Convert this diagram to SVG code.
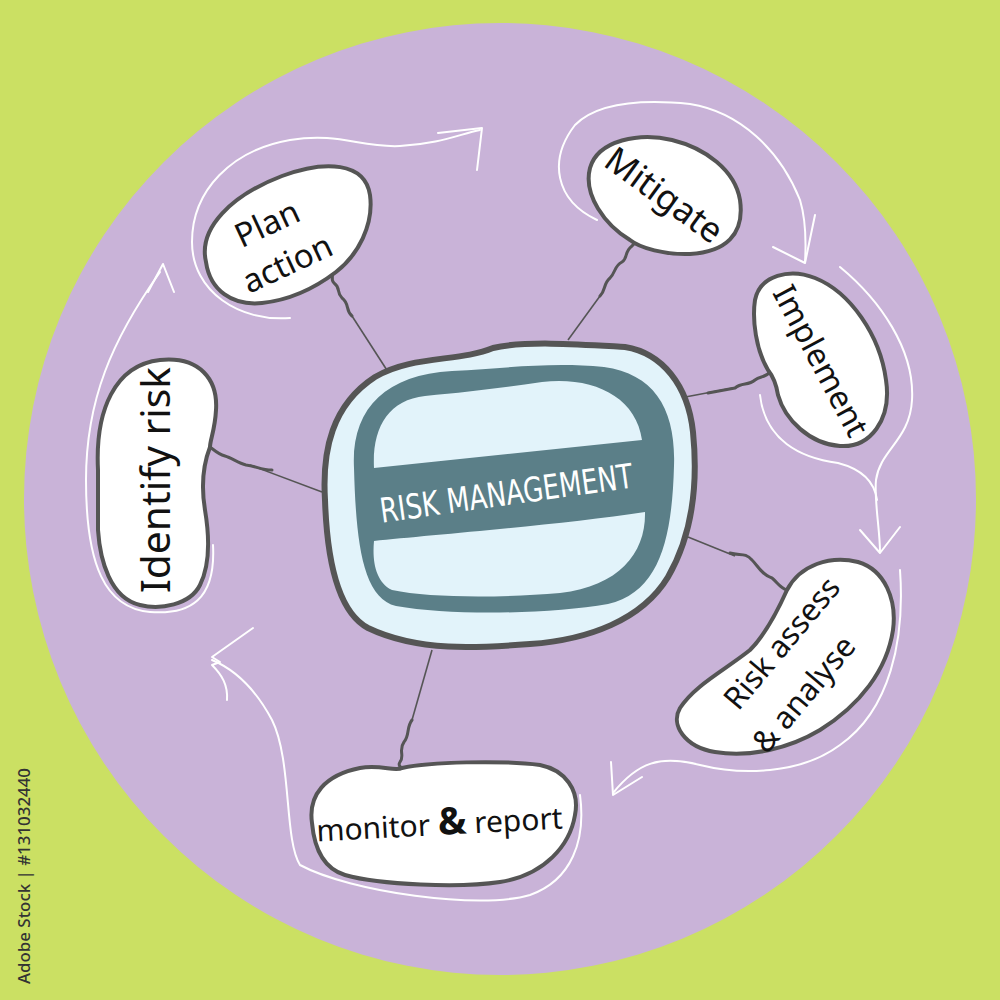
<svg xmlns="http://www.w3.org/2000/svg" width="1000" height="1000" viewBox="0 0 1000 1000">
<defs>
<style>
.node{fill:#ffffff;stroke:#555555;stroke-width:4;stroke-linejoin:round}
.lbl{font-family:"Noto Sans","Liberation Sans",sans-serif;fill:#111111;text-anchor:middle}
.flow{fill:none;stroke:#ffffff;stroke-width:2;stroke-linecap:round;stroke-linejoin:round}
.thin{fill:none;stroke:#555555;stroke-width:1.6}
.sq{fill:none;stroke:#555555;stroke-width:3;stroke-linecap:round;stroke-linejoin:round}
</style>
</defs>
<rect x="0" y="0" width="1000" height="1000" fill="#cbe063"/>
<circle cx="500" cy="499" r="476" fill="#c9b3d8"/>
<text x="0" y="0" transform="translate(30,876) rotate(-90)" font-family="Noto Sans,Liberation Sans,sans-serif" font-size="17" font-weight="500" fill="#333333" text-anchor="middle" textLength="216" lengthAdjust="spacingAndGlyphs">Adobe Stock | #131032440</text>

<g id="flow-arrows">
<path class="flow" d="M213,545 C216,600 190,615 150,612 C105,608 86,565 86,480 C86,400 112,340 160,272"/>
<path class="flow" d="M148,292 L163,264 L174,292"/>
<path class="flow" d="M290,318 C240,322 192,292 192,242 C192,190 232,150 290,140 C340,132 360,148 400,146 C440,144 460,134 480,130"/>
<path class="flow" d="M438,133 L482,128 L477,170"/>
<path class="flow" d="M597,220 C555,200 548,160 575,125 C600,100 650,100 690,104 C740,112 780,150 800,200 C806,220 806,245 805,262"/>
<path class="flow" d="M773,247 L805,263 L815,215"/>
<path class="flow" d="M840,267 C880,300 915,350 912,400 C910,440 880,450 876,480 C874,500 880,530 880,552"/>
<path class="flow" d="M760,395 C765,440 800,458 838,463 C865,470 875,485 877,500"/>
<path class="flow" d="M860,530 L880,553 L900,527"/>
<path class="flow" d="M900,570 C905,640 890,710 840,745 C800,775 740,775 700,765 C660,755 638,762 613,793"/>
<path class="flow" d="M611,762 L613,795 L642,777"/>
<path class="flow" d="M580,795 C586,840 572,880 530,895 C480,910 350,892 300,865 C284,840 292,760 272,720 C256,690 236,670 212,660"/>
<path class="flow" d="M253,628 L212,657 L220,662 L212,665 C222,675 228,685 227,700"/>
</g>

<g id="connectors">
<path class="thin" d="M392,378 L352,316"/>
<path class="sq" d="M352,316 C345,310 350,304 342,298 C336,292 341,288 334,283 C330,279 334,276 332,272"/>
<path class="thin" d="M568,340 L600,296"/>
<path class="sq" d="M600,296 C606,290 603,284 610,278 C616,272 614,266 622,262 C628,258 624,252 632,246 C636,243 633,240 636,238"/>
<path class="thin" d="M680,398 L733,388"/>
<path class="sq" d="M708,393 L735,388 C742,382 748,386 755,380 C760,376 765,378 770,372"/>
<path class="thin" d="M688,537 L735,556"/>
<path class="sq" d="M730,553 C740,556 745,552 752,560 C758,566 762,575 772,578 C778,583 780,588 787,590"/>
<path class="thin" d="M432,650 L412,720"/>
<path class="sq" d="M412,720 C406,728 410,735 404,742 C398,750 405,756 400,762 C398,765 400,767 402,768"/>
<path class="thin" d="M322,492 L250,465"/>
<path class="sq" d="M272,470 C262,470 255,466 246,465 C238,463 232,458 225,456 C218,454 214,450 210,447"/>
</g>

<g id="node-center">
<path d="M325,500 C322,450 332,405 375,377 C412,355 460,362 493,348 C525,340 590,345 625,347 C662,353 688,385 693,432 C698,482 694,532 668,577 C642,620 588,640 530,644 C478,648 418,652 368,628 C338,612 327,560 325,500 Z" fill="#e2f3fa" stroke="#555555" stroke-width="6"/>
<path d="M354,468 C351,410 384,375 452,371 C510,368 550,362 604,367 C655,374 676,410 674,466 C672,538 660,592 608,604 C550,614 452,616 396,606 C362,598 356,540 354,468 Z" fill="#5b7f88"/>
<path d="M374,468 C372,428 388,400 425,396 C468,392 502,388 542,382 C592,376 636,396 642,440 Z" fill="#e2f3fa"/>
<path d="M374,541 C430,535 560,525 645,512 C646,552 620,586 560,593 C500,598 430,598 392,590 C376,582 372,562 374,541 Z" fill="#e2f3fa"/>
<text x="0" y="0" transform="translate(508,505) rotate(-8)" font-family="Liberation Sans Narrow,DejaVu Sans Condensed,Liberation Sans,sans-serif" font-size="34" fill="#ffffff" text-anchor="middle" textLength="255" lengthAdjust="spacingAndGlyphs">RISK MANAGEMENT</text>
</g>

<g id="node-plan-action">
<path class="node" d="M206,262 C198,228 232,195 282,176 C325,160 365,162 370,195 C374,225 358,255 336,272 C315,288 290,300 262,303 C232,306 210,290 206,262 Z"/>
<text class="lbl" x="0" y="0" transform="translate(272,234) rotate(-25)" font-size="33">Plan</text>
<text class="lbl" x="0" y="0" transform="translate(292,274) rotate(-25)" font-size="33">action</text>
</g>

<g id="node-mitigate">
<path class="node" d="M590,168 C598,140 640,132 672,140 C705,148 735,170 740,200 C745,235 725,252 690,254 C665,255 640,248 630,240 C605,225 583,195 590,168 Z"/>
<text class="lbl" x="0" y="0" transform="translate(657,205) rotate(36)" font-size="35">Mitigate</text>
</g>

<g id="node-implement">
<path class="node" d="M755,300 C760,275 790,268 815,278 C850,292 880,335 886,380 C892,420 870,448 840,446 C810,444 785,420 778,395 C776,382 772,375 768,370 C756,350 752,320 755,300 Z"/>
<text class="lbl" x="0" y="0" transform="translate(811,366) rotate(62)" font-size="32">Implement</text>
</g>

<g id="node-risk-assess">
<path class="node" d="M787,590 C800,565 830,555 858,562 C885,570 897,600 893,630 C887,670 860,705 820,730 C790,748 750,758 715,752 C685,747 670,725 680,708 C695,685 725,670 750,650 C765,635 778,610 787,590 Z"/>
<text class="lbl" x="0" y="0" transform="translate(790,650) rotate(-50)" font-size="31">Risk assess</text>
<text class="lbl" x="0" y="0" transform="translate(812,701) rotate(-50)" font-size="31">&amp; analyse</text>
</g>

<g id="node-monitor">
<path class="node" d="M312,823 C308,795 325,775 360,768 C380,764 395,772 402,768 C430,762 500,760 540,765 C565,770 580,790 575,815 C570,845 545,875 500,882 C460,888 380,885 345,875 C322,868 314,845 312,823 Z"/>
<text class="lbl" x="0" y="0" transform="translate(440,835) rotate(-3)" font-size="30">monitor <tspan font-size="38" font-weight="bold">&amp;</tspan> report</text>
</g>

<g id="node-identify">
<path class="node" d="M98,470 C95,410 115,365 160,360 C200,356 218,380 216,410 C215,430 210,440 210,447 C205,460 200,480 205,510 C210,540 210,565 200,585 C190,605 160,610 140,605 C110,598 100,560 98,530 Z"/>
<text class="lbl" x="0" y="0" transform="translate(170,480) rotate(-90)" font-size="40" textLength="226" lengthAdjust="spacingAndGlyphs">Identify risk</text>
</g>
</svg>
